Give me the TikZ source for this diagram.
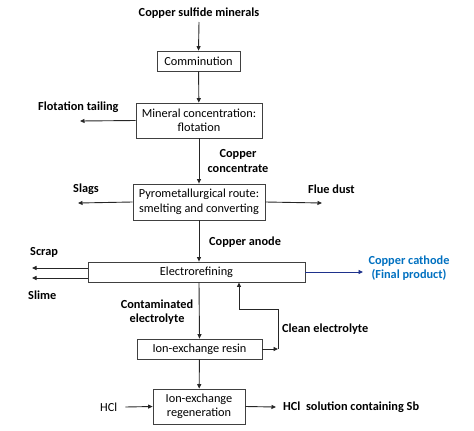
\documentclass[tikz,border=0pt]{standalone}
\usepackage{fontspec}
\setmainfont{Carlito}
\usetikzlibrary{arrows.meta}
\definecolor{cblue}{RGB}{0,112,192}
\definecolor{ablue}{RGB}{30,50,140}
\begin{document}
\begin{tikzpicture}[x=1pt,y=-1pt,
  box/.style={draw=black!75,line width=0.8pt,align=center,inner sep=0pt,font=\fontsize{12.3}{14.5}\selectfont},
  lbl/.style={font=\fontsize{12.3}{14.5}\selectfont\bfseries,align=center,inner sep=0pt},
  flow/.style={draw=black!85,line width=0.9pt,-{Triangle[length=4.5pt,width=4pt]}}]
\useasboundingbox (0,0) rectangle (474,431);
% boxes
\node[box,minimum width=83pt,minimum height=20pt] (com) at (198.5,61) {Comminution};
\node[box,minimum width=126pt,minimum height=35pt] (min) at (199,120.5) {Mineral concentration:\\flotation};
\node[box,minimum width=132pt,minimum height=36pt] (pyr) at (199,202) {Pyrometallurgical route:\\smelting and converting};
\node[box,minimum width=217pt,minimum height=20pt] (ele) at (196.5,272) {Electrorefining};
\node[box,minimum width=125pt,minimum height=20pt] (ion) at (199.5,349) {Ion-exchange resin};
\node[box,minimum width=92pt,minimum height=35pt] (reg) at (199,406.5) {Ion-exchange\\regeneration};
% labels
\node[lbl] (src) at (199,13) {Copper sulfide minerals};
\node[lbl,anchor=west] (tail) at (38,107) {Flotation tailing};
\node[lbl] (conc) at (238,161) {Copper\\concentrate};
\node[lbl,anchor=west] (slag) at (73,189) {Slags};
\node[lbl,anchor=west] (flue) at (308,189) {Flue dust};
\node[lbl,anchor=west] (anode) at (209,242) {Copper anode};
\node[lbl,anchor=west] (scrap) at (30,252) {Scrap};
\node[lbl,anchor=west] (slime) at (28,295) {Slime};
\node[lbl,text=cblue] (cath) at (409,268) {Copper cathode\\(Final product)};
\node[lbl] (cont) at (157,312) {Contaminated\\electrolyte};
\node[lbl,anchor=west] (clean) at (282,329) {Clean electrolyte};
\node[anchor=west,inner sep=0pt,font=\fontsize{12.3}{14.5}\selectfont] (hcl) at (100,407) {HCl};
\node[lbl,anchor=west] (sb) at (283,407) {HCl\ \ solution containing Sb};
% free ends
\coordinate (tailE) at (80,121);
\coordinate (slagE) at (78,203);
\coordinate (flueE) at (322,203);
\coordinate (scrapE) at (32,268);
\coordinate (slimeE) at (32,278);
\coordinate (cathE) at (363,272);
\coordinate (cleanC) at (278,349);
\coordinate (sbE) at (276,407);
% connectors
\draw[flow] (src.south|-0,22) -- (com.north);
\draw[flow] (com) -- (min);
\draw[flow] (min.west) -- (tailE);
\draw[flow] (min) -- (pyr);
\draw[flow] (pyr.west) -- (slagE);
\draw[flow] (pyr.east) -- (flueE);
\draw[flow] (pyr.south) -- (pyr.south|-ele.north);
\draw[flow] (ele.west|-scrapE) -- (scrapE);
\draw[flow] (ele.west|-slimeE) -- (slimeE);
\draw[flow,draw=ablue,fill=ablue] (ele.east) -- (cathE);
\draw[flow] (ele.south-|pyr.south) -- (ion.north);
\draw[flow] (ion.east) -- (cleanC);
\draw[flow] (cleanC) -- (278,309) -- (239,309) -- (ele.south-|239,0);
\draw[flow] (ion) -- (reg);
\draw[flow] (hcl.east)++(8,0) -- (reg.west);
\draw[flow] (reg.east) -- (sbE);
\end{tikzpicture}
\end{document}
